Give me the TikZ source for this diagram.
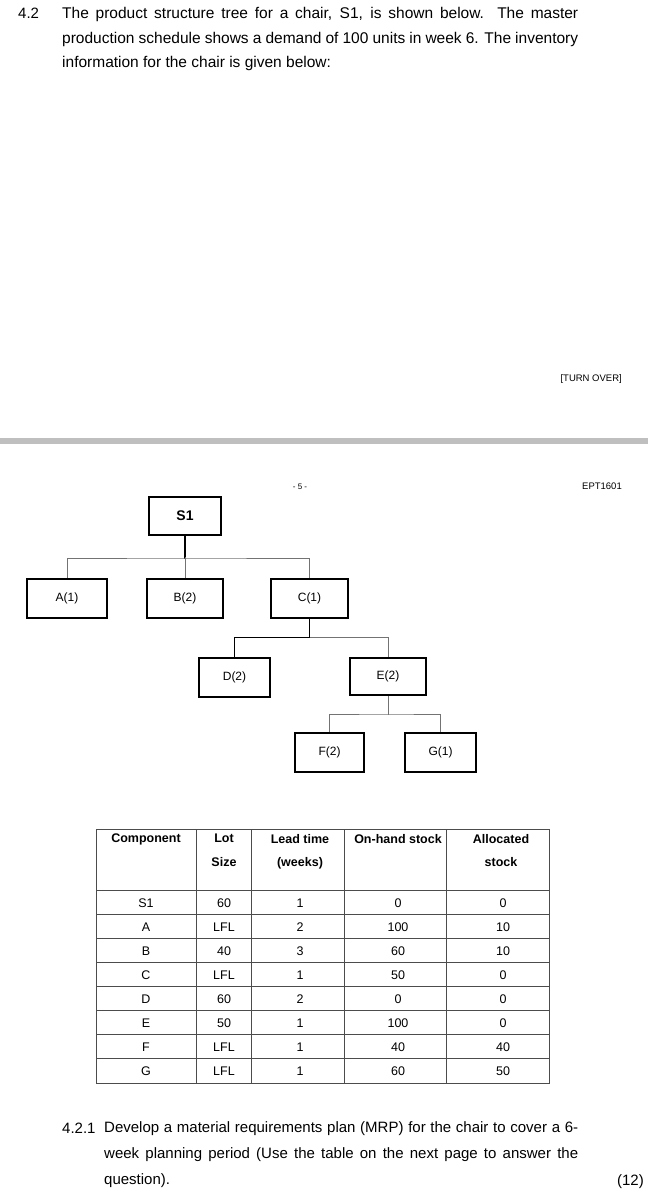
\documentclass[tikz,border=0pt]{standalone}
\usepackage{fontspec}
\setmainfont{Liberation Sans}
\begin{document}
\begin{tikzpicture}[x=1pt,y=-1pt,
  bx/.style={draw,line width=1.6pt,inner sep=0pt,font=\fontsize{12}{14}\selectfont},
  ln/.style={draw=black!55,line width=1pt},
  txt/.style={inner sep=0pt,anchor=base west,font=\fontsize{15.5}{24.5}\selectfont,align=justify}]
\useasboundingbox (0,0) rectangle (648,1193);
\node[inner sep=0pt,anchor=base west,font=\fontsize{15}{17}\selectfont] (n42) at (18,19) {4.2};
\node[txt,text width=516pt,anchor=north west] (p1) at (62,7.5) {The product structure tree for a chair, S1, is shown below. The master\linebreak \mbox{production} schedule shows a demand of 100 units in week 6. The inventory\linebreak \mbox{information} for the chair is given below:};
\node[inner sep=0pt,anchor=base east,font=\fontsize{9.5}{11}\selectfont] (turn) at (622,381) {[TURN OVER]};
\fill[black!25] (0,438) rectangle (648,444);
\node[inner sep=0pt,anchor=base,font=\fontsize{8}{10}\selectfont] (pg) at (300,489) {- 5 -};
\node[inner sep=0pt,anchor=base east,font=\fontsize{9.5}{11}\selectfont] (ept) at (622,489) {EPT1601};
% tree
\node[bx,minimum width=72pt,minimum height=38pt,font=\fontsize{14}{15}\bfseries] (S1) at (185,516) {S1};
\node[bx,minimum width=80pt,minimum height=39pt] (A) at (67,598.5) {A(1)};
\node[bx,minimum width=76pt,minimum height=39pt] (B) at (185,598.5) {B(2)};
\node[bx,minimum width=77pt,minimum height=39pt] (C) at (309.5,598.5) {C(1)};
\node[bx,minimum width=71pt,minimum height=39pt] (D) at (234.5,677.5) {D(2)};
\node[bx,minimum width=76pt,minimum height=37pt] (E) at (388,676.5) {E(2)};
\node[bx,minimum width=69pt,minimum height=39pt] (F) at (329.5,752.5) {F(2)};
\node[bx,minimum width=71pt,minimum height=39pt] (G) at (440.5,752.5) {G(1)};
\draw[line width=1.3pt] (S1.south) -- ++(0,23);
\draw[ln] (A.north) |- (S1.south |- 0,558) -| (C.north);
\draw[ln] (B.north) -- ++(0,-21);
\draw[line width=1.3pt] (C.south) -- ++(0,19) -| (D.north);
\draw[ln] (C.south |- 0,637) -| (E.north);
\draw[ln] (E.south) -- ++(0,19);
\draw[ln] (F.north) |- (E.south |- 0,714) -| (G.north);
% table
\draw[black!70,line width=0.8pt] (96,829) rectangle (549,1083);
\foreach \x in {196,251,344,446} \draw[black!70,line width=0.8pt] (\x,829) -- (\x,1083);
\foreach \i in {0,...,7} \draw[black!70,line width=0.8pt] (96,890+24.125*\i) -- (549,890+24.125*\i);
\begin{scope}[every node/.style={inner sep=0pt,font=\fontsize{12.5}{23.5}\selectfont,align=center}]
\node[anchor=north,font=\fontsize{12.5}{23.5}\bfseries] (h1) at (146,834) {Component};
\node[anchor=north,font=\fontsize{12.5}{23.5}\bfseries] (h2) at (224,834) {Lot\\Size};
\node[anchor=north,font=\fontsize{12.5}{23.5}\bfseries] (h3) at (300,834) {Lead time\\(weeks)};
\node[anchor=north,font=\fontsize{12.5}{23.5}\bfseries] (h4) at (398,834) {On-hand stock};
\node[anchor=north,font=\fontsize{12.5}{23.5}\bfseries] (h5) at (501,834) {Allocated\\stock};
\foreach \c/\l/\t/\o/\a [count=\i from 0] in {S1/60/1/0/0,A/LFL/2/100/10,B/40/3/60/10,C/LFL/1/50/0,D/60/2/0/0,E/50/1/100/0,F/LFL/1/40/40,G/LFL/1/60/50}{
  \node[anchor=base] (r\i a) at (146,907+24.125*\i) {\c};
  \node[anchor=base] (r\i b) at (224,907+24.125*\i) {\l};
  \node[anchor=base] (r\i c) at (300,907+24.125*\i) {\t};
  \node[anchor=base] (r\i d) at (398,907+24.125*\i) {\o};
  \node[anchor=base] (r\i e) at (503,907+24.125*\i) {\a};
}
\end{scope}
\node[inner sep=0pt,anchor=base west,font=\fontsize{15}{17}\selectfont] (q) at (62,1133) {4.2.1};
\node[txt,text width=474pt,anchor=north west,font=\fontsize{15}{26}\selectfont] (p2) at (104,1121.5) {Develop a material requirements plan (MRP) for the chair to cover a 6-week planning period (Use the table on the next page to answer the question).};
\node[inner sep=0pt,anchor=base east,font=\fontsize{15}{17}\selectfont] (m) at (644,1185) {(12)};
\end{tikzpicture}
\end{document}
